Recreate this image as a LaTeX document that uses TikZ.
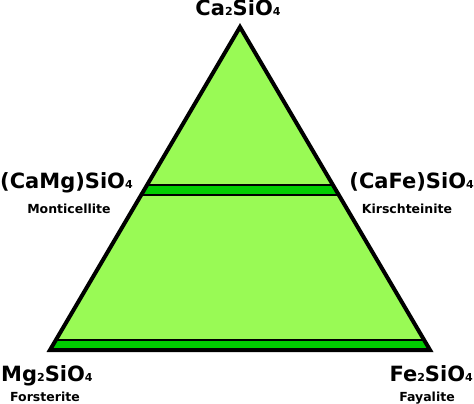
\documentclass[tikz,border=0pt]{standalone}
\usepackage{fontspec}
\setmainfont{DejaVu Sans}[BoldFont={DejaVu Sans Bold}]
\definecolor{lightgreen}{RGB}{153,250,85}
\definecolor{bandgreen}{RGB}{0,204,0}
\newcommand{\sbs}[1]{{\fontsize{11}{11}\selectfont #1}}
\begin{document}
\begin{tikzpicture}[x=1pt,y=-1pt,
  formula/.style={font=\bfseries\fontsize{21}{21}\selectfont, inner sep=0pt, anchor=base},
  mineral/.style={font=\bfseries\fontsize{12.5}{12.5}\selectfont, inner sep=0pt, anchor=base},
  outline/.style={line width=4pt, line join=miter},
  bandline/.style={line width=2pt}]
\useasboundingbox (0,0) rectangle (474,404);
\coordinate (A) at (240,27);
\coordinate (L) at (50,350);
\coordinate (R) at (430,350);
\fill[lightgreen] (A) -- (L) -- (R) -- cycle;
\begin{scope}
  \clip (A) -- (L) -- (R) -- cycle;
  \coordinate (m1l) at (0,184.5); \coordinate (m1r) at (474,184.5);
  \coordinate (m2l) at (0,195); \coordinate (m2r) at (474,195);
  \coordinate (b1l) at (0,340); \coordinate (b1r) at (474,340);
  \fill[bandgreen] (m1l) rectangle (m2r);
  \fill[bandgreen] (b1l) rectangle (474,352);
  \draw[bandline] (m1l) -- (m1r);
  \draw[bandline] (m2l) -- (m2r);
  \draw[bandline] (b1l) -- (b1r);
\end{scope}
\draw[outline] (A) -- (L) -- (R) -- cycle;
\node[formula] (ca) at (238,16) {Ca\sbs{2}SiO\sbs{4}};
\node[formula, anchor=base west] (camg) at (0,188) {(CaMg)SiO\sbs{4}};
\node[mineral] (mont) at (69,213) {Monticellite};
\node[formula, anchor=base east] (cafe) at (474,188) {(CaFe)SiO\sbs{4}};
\node[mineral] (kirs) at (407,213) {Kirschteinite};
\node[formula, anchor=base west] (mg) at (1,381) {Mg\sbs{2}SiO\sbs{4}};
\node[mineral] (fors) at (45,401) {Forsterite};
\node[formula, anchor=base east] (fe) at (473,381) {Fe\sbs{2}SiO\sbs{4}};
\node[mineral] (faya) at (427,401) {Fayalite};
\end{tikzpicture}
\end{document}
